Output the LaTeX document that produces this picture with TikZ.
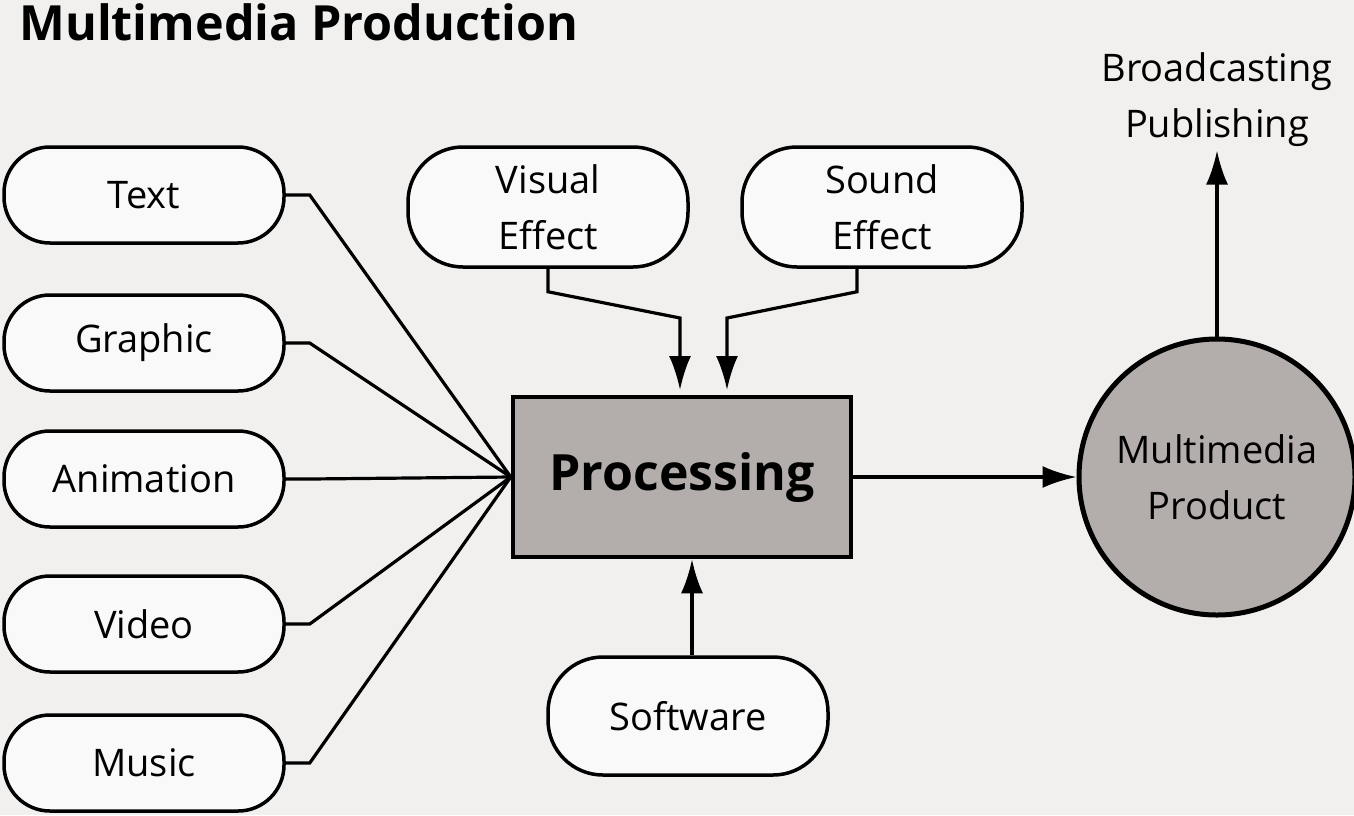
\documentclass[tikz,border=0pt]{standalone}
\usepackage{fontspec}
\setmainfont{Open Sans}
\usetikzlibrary{arrows.meta}
\definecolor{bg}{HTML}{F1F0EF}
\definecolor{boxg}{HTML}{B3AEAB}
\begin{document}
\begin{tikzpicture}[x=1pt,y=-1pt,
  pill/.style={draw,line width=3.5pt,rounded corners=46pt,minimum width=280pt,fill=white!60!bg,font=\fontsize{38}{56}\selectfont,align=center,inner sep=0pt},
  ln/.style={line width=3.2pt},
  ar/.style={line width=3.2pt,-{Latex[length=34pt,width=22pt]}}]
\useasboundingbox[fill=bg] (0,0) rectangle (1354,815);
\node[anchor=west,font=\fontsize{48.5}{50}\selectfont\bfseries] (title) at (16,22) {Multimedia Production};
\node[pill,minimum height=96pt] (text) at (144,195) {Text};
\node[pill,minimum height=96pt] (graphic) at (144,343) {Graphic};
\node[pill,minimum height=96pt] (anim) at (144,479) {Animation};
\node[pill,minimum height=96pt] (video) at (144,624) {Video};
\node[pill,minimum height=96pt] (music) at (144,763) {Music};
\node[pill,minimum height=120pt,rounded corners=55pt] (vis) at (548,207) {Visual\\Effect};
\node[pill,minimum height=120pt,rounded corners=55pt] (snd) at (882,207) {Sound\\Effect};
\node[pill,minimum height=118pt,rounded corners=55pt] (soft) at (688,716) {Software};
\node[draw,line width=4.5pt,fill=boxg,minimum width=338pt,minimum height=160pt,font=\fontsize{50}{56}\selectfont\bfseries] (proc) at (682,477) {Processing};
\node[draw,circle,line width=5pt,fill=boxg,minimum size=276pt,align=center,font=\fontsize{38}{56}\selectfont,inner sep=0pt] (prod) at (1217,477) {Multimedia\\Product};
\node[align=center,font=\fontsize{38}{56}\selectfont] (bp) at (1217,100) {Broadcasting\\Publishing};
\coordinate (hub) at (proc.west);
\foreach \n in {text,graphic,anim,video,music}{
  \draw[ln] (\n.east) -- ++(24,0) -- (hub);}
\draw[ar] (vis.south) -- ++(0,23) -- (680,318) -- (680,390);
\draw[ar] ([xshift=-25pt]snd.south) -- ++(0,23) -- (727,318) -- (727,390);
\draw[ar] ([xshift=4pt]soft.north) -- ([xshift=10pt]proc.south);
\draw[ar] (proc.east) -- (prod.west);
\draw[ar] (prod.north) -- (bp.south);
\end{tikzpicture}
\end{document}
